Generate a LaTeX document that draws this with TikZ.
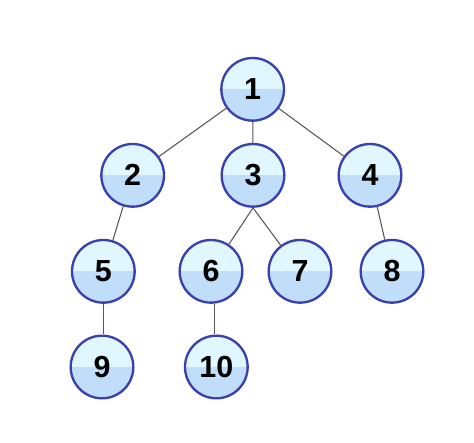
\documentclass[tikz,border=0pt]{standalone}
\usepackage{fontspec}
\setmainfont{Liberation Sans}
\definecolor{nodetop}{RGB}{224,247,255}
\definecolor{nodebottom}{RGB}{192,221,250}
\definecolor{nodeborder}{RGB}{58,64,172}
\definecolor{edgegray}{RGB}{85,85,85}
\begin{document}
\begin{tikzpicture}[
    treenode/.style={circle, draw=nodeborder, line width=2pt, minimum size=1.88cm, inner sep=0pt,
        fill=nodetop,
        path picture={\fill[nodebottom] (path picture bounding box.west) rectangle (path picture bounding box.south east);},
        font=\fontsize{26}{26}\selectfont\bfseries},
    treeedge/.style={draw=edgegray, line width=0.9pt}
]
    \useasboundingbox (0,0) rectangle (14.22,-13.29);
    % level 0
    \node [treenode] (n1) at (7.58,-2.68) {1};
    % level 1
    \node [treenode] (n2) at (3.98,-5.26) {2};
    \node [treenode] (n3) at (7.59,-5.26) {3};
    \node [treenode] (n4) at (11.10,-5.26) {4};
    % level 2
    \node [treenode] (n5) at (3.10,-8.14) {5};
    \node [treenode] (n6) at (6.33,-8.14) {6};
    \node [treenode] (n7) at (9.00,-8.14) {7};
    \node [treenode] (n8) at (11.76,-8.14) {8};
    % level 3
    \node [treenode] (n9) at (3.06,-11.01) {9};
    \node [treenode] (n10) at (6.49,-11.01) {10};

    \draw [treeedge] (n1) -- (n2);
    \draw [treeedge] (n1) -- (n3);
    \draw [treeedge] (n1) -- (n4);
    \draw [treeedge] (n2) -- (n5);
    \draw [treeedge] (n3.south) -- (n6);
    \draw [treeedge] (n3.south) -- (n7);
    \draw [treeedge] (n4) -- (n8);
    \draw [treeedge] (n5.south) -- (n5.south |- n9.north);
    \draw [treeedge] ([xshift=1mm]n6.south) -- ([xshift=1mm]n6.south |- n10.north);
\end{tikzpicture}
\end{document}
